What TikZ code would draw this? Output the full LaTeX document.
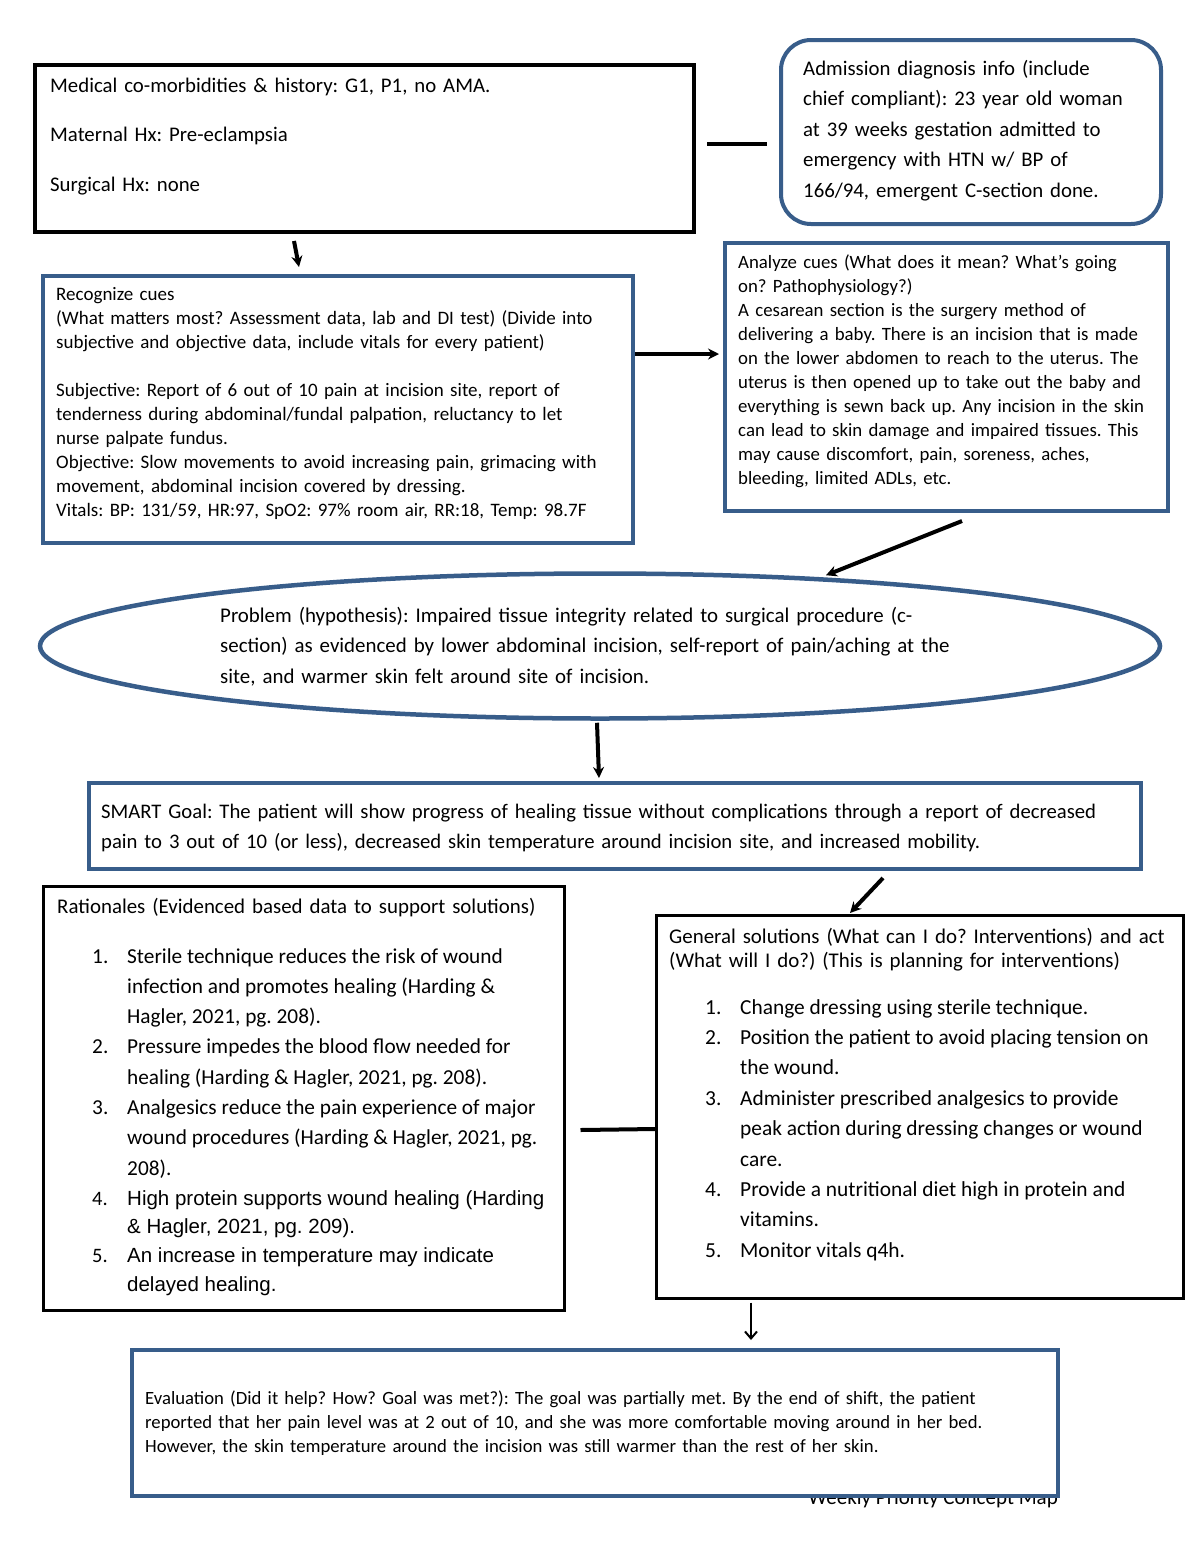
\documentclass[tikz,border=0pt]{standalone}
\usepackage{fontspec}
\setmainfont{Carlito}
\newfontfamily\arialf{Liberation Sans}
\usetikzlibrary{shapes.geometric,arrows.meta,calc}
\definecolor{boxblue}{HTML}{385D8A}
\frenchspacing
\tikzset{
  bluebox/.style={draw=boxblue, line width=4pt, fill=white, inner sep=0pt, anchor=north west},
  blackbox/.style={draw=black, line width=4pt, fill=white, inner sep=0pt, anchor=north west},
  thinbox/.style={draw=black, line width=2.5pt, fill=white, inner sep=0pt, anchor=north west},
  txt/.style={inner sep=0pt, anchor=base west, align=left, text width=1000pt},
  lst/.style={inner sep=0pt, anchor=base west},
  conn/.style={line width=4pt},
  arr/.style={line width=4pt, -{Stealth[length=11pt,width=11pt]}},
  thinarr/.style={line width=2pt, -{Straight Barb[length=7pt,width=12pt]}},
}
\begin{document}
\begin{tikzpicture}[x=1pt,y=-1pt]
\useasboundingbox (0,0) rectangle (1200,1553);
\fill[white] (0,0) rectangle (1200,1553);

% Box A: medical
\node[blackbox, minimum width=659pt, minimum height=167pt] (A) at (33,63) {};
\node[txt, font={\fontsize{20.8}{49.5}\selectfont}] (Atext) at (50,92)
  {Medical co-morbidities \& history: G1, P1, no AMA.\\Maternal Hx: Pre-eclampsia\\Surgical Hx: none};

% Box B: admission
\node[bluebox, rounded corners=30pt, minimum width=380pt, minimum height=184pt] (B) at (779,38) {};
\node[txt, font={\fontsize{20.8}{30.5}\selectfont}] (Btext) at (803,75)
  {Admission diagnosis info (include\\chief compliant): 23 year old woman\\at 39 weeks gestation admitted to\\emergency with HTN w/ BP of\\166/94, emergent C-section done.};

% Box C: recognize cues
\node[bluebox, minimum width=590pt, minimum height=267pt] (C) at (41,274) {};
\node[txt, font={\fontsize{19}{24.1}\selectfont}] (Ctext) at (56,300)
  {Recognize cues\\(What matters most? Assessment data, lab and DI test) (Divide into\\subjective and objective data, include vitals for every patient)\\[24.1pt]Subjective: Report of 6 out of 10 pain at incision site, report of\\tenderness during abdominal/fundal palpation, reluctancy to let\\nurse palpate fundus.\\Objective: Slow movements to avoid increasing pain, grimacing with\\movement, abdominal incision covered by dressing.\\Vitals: BP: 131/59, HR:97, SpO2: 97\% room air, RR:18, Temp: 98.7F};

% Box D: analyze cues
\node[bluebox, minimum width=443pt, minimum height=268pt] (D) at (723,241) {};
\node[txt, font={\fontsize{18.8}{24}\selectfont}] (Dtext) at (738,268)
  {Analyze cues (What does it mean? What's going\\on? Pathophysiology?)\\A cesarean section is the surgery method of\\delivering a baby. There is an incision that is made\\on the lower abdomen to reach to the uterus. The\\uterus is then opened up to take out the baby and\\everything is sewn back up. Any incision in the skin\\can lead to skin damage and impaired tissues. This\\may cause discomfort, pain, soreness, aches,\\bleeding, limited ADLs, etc.};

% Ellipse E: problem
\node[ellipse, draw=boxblue, line width=4.5pt, fill=white, inner sep=0pt, minimum width=1120pt, minimum height=145pt] (E) at (600,646) {};
\node[txt, font={\fontsize{20.9}{30.5}\selectfont}] (Etext) at (220,622)
  {Problem (hypothesis): Impaired tissue integrity related to surgical procedure (c-\\section) as evidenced by lower abdominal incision, self-report of pain/aching at the\\site, and warmer skin felt around site of incision.};

% Box F: SMART goal
\node[bluebox, minimum width=1052pt, minimum height=86pt] (F) at (87,781) {};
\node[txt, font={\fontsize{20.7}{30}\selectfont}] (Ftext) at (101,818)
  {SMART Goal: The patient will show progress of healing tissue without complications through a report of decreased\\pain to 3 out of 10 (or less), decreased skin temperature around incision site, and increased mobility.};

% Box G: rationales
\node[thinbox, minimum width=521pt, minimum height=424pt] (G) at (42,885) {};
\node[txt, font={\fontsize{20.9}{24}\selectfont}] (Gtext) at (57,913)
  {Rationales (Evidenced based data to support solutions)};
\node[lst, font={\fontsize{21.3}{30.3}\selectfont}] (Glist) at (92,963)
  {\setlength{\tabcolsep}{0pt}\begin{tabular}[t]{@{}p{35pt}@{}l@{}}
  1. & Sterile technique reduces the risk of wound\\
     & infection and promotes healing (Harding \&\\
     & Hagler, 2021, pg. 208).\\
  2. & Pressure impedes the blood flow needed for\\
     & healing (Harding \& Hagler, 2021, pg. 208).\\
  3. & Analgesics reduce the pain experience of major\\
     & wound procedures (Harding \& Hagler, 2021, pg.\\
     & 208).
  \end{tabular}};
\node[lst, font={\fontsize{20.5}{28.7}\selectfont}] (Glist2) at (92,1205)
  {\setlength{\tabcolsep}{0pt}\begin{tabular}[t]{@{}p{35pt}@{}l@{}}
  4. & {\arialf High protein supports wound healing (Harding}\\
     & {\arialf \& Hagler, 2021, pg. 209).}\\
  5. & {\arialf An increase in temperature may indicate}\\
     & {\arialf delayed healing.}
  \end{tabular}};

% Box H: general solutions
\node[thinbox, minimum width=527pt, minimum height=383pt] (H) at (655,914) {};
\node[txt, font={\fontsize{20.9}{24}\selectfont}] (Htext) at (669,943)
  {General solutions (What can I do? Interventions) and act\\(What will I do?) (This is planning for interventions)};
\node[lst, font={\fontsize{21.4}{30.4}\selectfont}] (Hlist) at (705,1014)
  {\setlength{\tabcolsep}{0pt}\begin{tabular}[t]{@{}p{35pt}@{}l@{}}
  1. & Change dressing using sterile technique.\\
  2. & Position the patient to avoid placing tension on\\
     & the wound.\\
  3. & Administer prescribed analgesics to provide\\
     & peak action during dressing changes or wound\\
     & care.\\
  4. & Provide a nutritional diet high in protein and\\
     & vitamins.\\
  5. & Monitor vitals q4h.
  \end{tabular}};

% Footer (partly hidden behind evaluation box)
\node[inner sep=0pt, anchor=base east, font={\fontsize{21}{24}\selectfont}] (footer) at (1058,1504) {Weekly Priority Concept Map};

% Box I: evaluation
\node[bluebox, minimum width=926pt, minimum height=146pt] (I) at (130,1348) {};
\node[txt, font={\fontsize{18.7}{24}\selectfont}] (Itext) at (145,1404)
  {Evaluation (Did it help? How? Goal was met?): The goal was partially met. By the end of shift, the patient\\reported that her pain level was at 2 out of 10, and she was more comfortable moving around in her bed.\\However, the skin temperature around the incision was still warmer than the rest of her skin.};

% Connectors
\draw[conn] ($(A.east)+(11,-4.5)$) -- ($(B.west)+(-12,12)$);
\draw[arr] ($(A.south)+(-70.5,7)$) -- ($(C.north)+(-39,-7)$);
\draw[arr] ($(C.north east)+(0,80)$) -- ($(D.north west)+(-4,113)$);
\draw[arr] ($(D.south)+(15.5,8)$) -- ($(E.north)+(226,4)$);
\draw[arr] ($(E.south)+(-3,2)$) -- ($(F.north)+(-16,-3)$);
\draw[arr] ($(F.south east)+(-260,7)$) -- ($(H.north west)+(195,-1)$);
\draw[conn] ($(G.north east)+(15,245)$) -- ($(H.north west)+(0,215)$);
\draw[thinarr] ($(H.south west)+(96,3)$) -- ($(I.north west)+(621,-8)$);
\end{tikzpicture}
\end{document}
